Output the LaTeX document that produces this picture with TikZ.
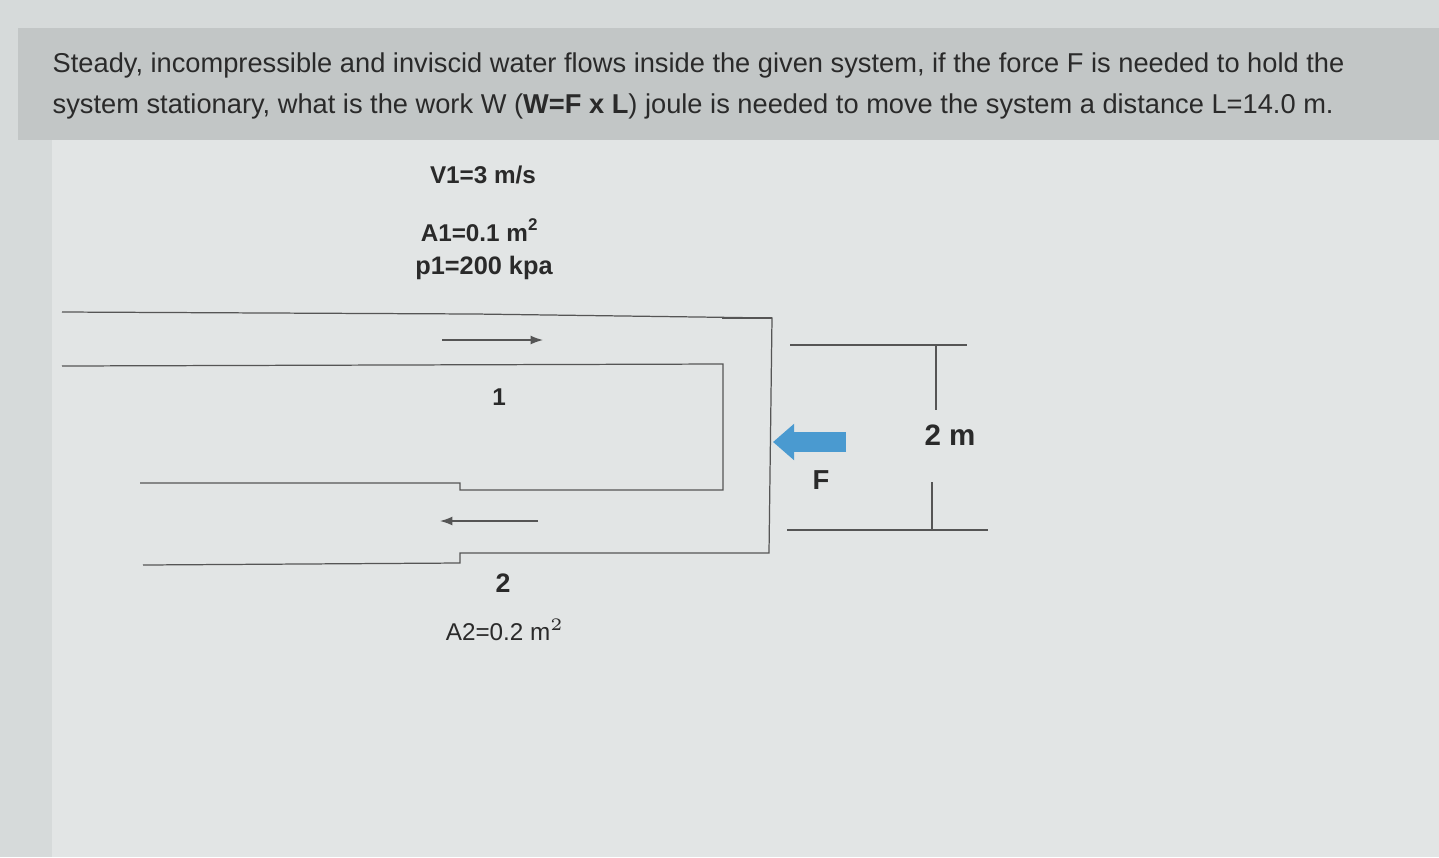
\documentclass[tikz,border=0pt]{standalone}
\usepackage{fontspec}
\setmainfont{Liberation Sans}
\usetikzlibrary{arrows.meta}
\definecolor{bgc}{HTML}{D6DADA}
\definecolor{hdr}{HTML}{C2C6C6}
\definecolor{body}{HTML}{E2E5E5}
\definecolor{ink}{HTML}{2A2A2A}
\definecolor{fblue}{HTML}{4A9AD0}
\tikzset{pipe/.style={draw=ink!80,line width=0.35pt},
 lbl/.style={font=\fontsize{6.9}{8}\selectfont\bfseries,text=ink,inner sep=0},
 hd/.style={font=\fontsize{7.75}{9}\selectfont,text=ink,anchor=west,inner sep=0},
 flow/.style={pipe,-{Latex[length=3.5pt,width=2.5pt]}}}
\begin{document}
\begin{tikzpicture}[x=0.01cm,y=-0.01cm]
\fill[bgc] (0,0) rectangle (1439,857);
\fill[hdr] (18,28) rectangle (1439,140);
\fill[body] (52,140) rectangle (1439,857);
\node[hd] (h1) at (52,65) {Steady, incompressible and inviscid water flows inside the given system, if the force F is needed to hold the};
\node[hd] (h2) at (52,106) {system stationary, what is the work W (\textbf{W=F x L}) joule is needed to move the system a distance L=14.0 m.};
\node[lbl] (v1) at (483,175) {V1=3 m/s};
\node[lbl] (a1) at (480,230) {A1=0.1 m$^{\mathbf 2}$};
\node[lbl,font=\fontsize{7.2}{8}\selectfont\bfseries] (p1) at (484,268) {p1=200 kpa};
\node[lbl] (n1) at (499,397) {1};
\node[lbl,font=\fontsize{7.6}{9}\selectfont\bfseries] (n2) at (503,583) {2};
\node[lbl,font=\fontsize{6.9}{8}\selectfont] (a2) at (505,630) {A2=0.2 m$^{2}$};
% pipes
\draw[pipe] (62,312) -- (475,314) -- (772,318) -- (769,553) -- (460,553) -- (460,563) -- (143,565);
\draw[pipe] (722,318) -- (772,318);
\draw[pipe] (62,366) -- (723,364) -- (723,490) -- (460,490) -- (460,483) -- (140,483);
\coordinate (r0) at (442,340); \coordinate (r1) at (543,340);
\draw[flow] (r0) -- (r1);
\coordinate (l0) at (538,521); \coordinate (l1) at (440,521);
\draw[flow] (l0) -- (l1);
% dimension
\draw[pipe] (790,345) -- (967,345);
\draw[pipe] (787,530) -- (988,530);
\draw[pipe] (936,345) -- (936,410);
\draw[pipe] (932,482) -- (932,530);
\node[lbl,font=\fontsize{8.4}{9}\selectfont\bfseries] (dm) at (950,435) {2 m};
% force arrow
\coordinate (f0) at (846,442); \coordinate (f1) at (773,442);
\draw[fblue,line width=5.5pt,-{Triangle[length=6pt,width=10pt]}] (f0) -- (f1);
\node[lbl,font=\fontsize{7.8}{9}\selectfont\bfseries] (F) at (821,480) {F};
\end{tikzpicture}
\end{document}
